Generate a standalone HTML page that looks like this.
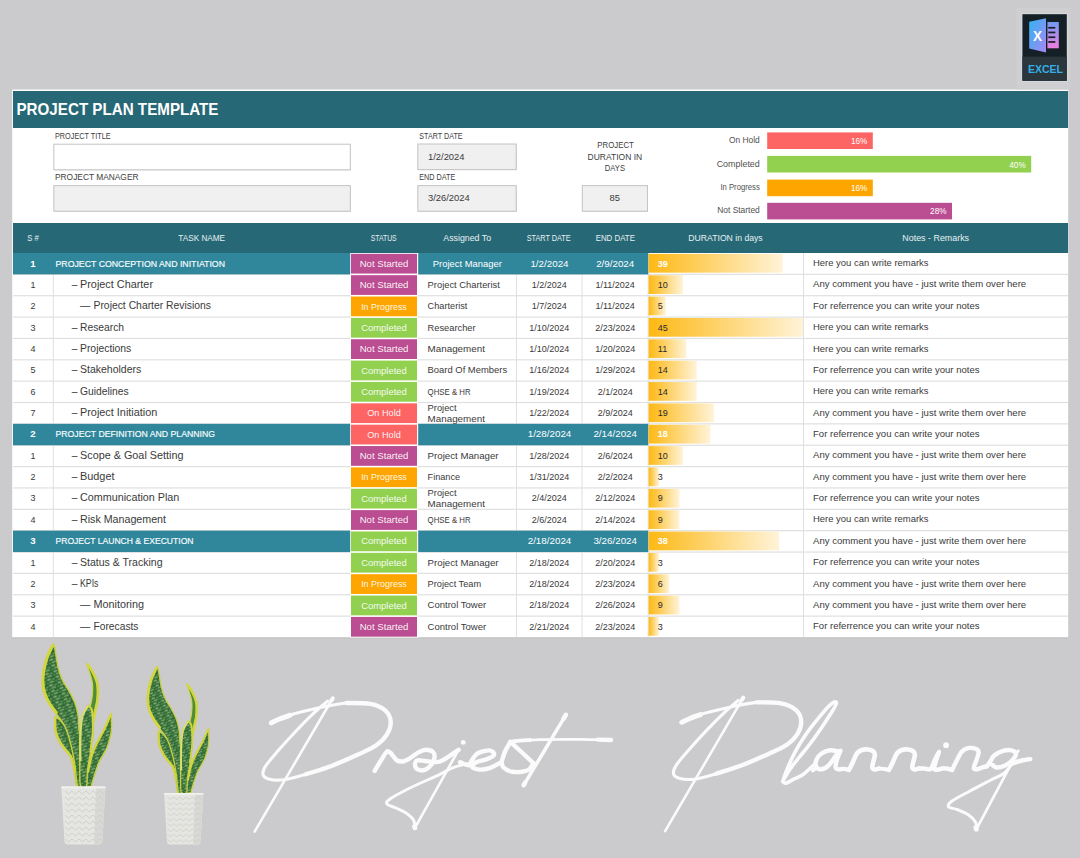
<!DOCTYPE html>
<html><head><meta charset="utf-8"><style>
html,body{margin:0;padding:0;background:#cbcbcd;width:1080px;height:858px;overflow:hidden}
svg{display:block;font-family:"Liberation Sans", sans-serif}
</style></head><body>
<svg width="1080" height="858" viewBox="0 0 1080 858">
<rect x="0" y="0" width="1080" height="858" fill="#cbcbcd"/>
<rect x="12.2" y="89.5" width="1056.0" height="547.9" fill="#ffffff"/>
<rect x="12.2" y="637.4" width="1056.0" height="1.6" fill="#c6c6c8"/>
<rect x="13" y="91" width="1055" height="37" fill="#266876"/>
<text x="16.5" y="114.8" font-size="16.5" fill="#ffffff" text-anchor="start" font-weight="bold" textLength="202" lengthAdjust="spacingAndGlyphs">PROJECT PLAN TEMPLATE</text>
<text x="55" y="138.7" font-size="9.2" fill="#404040" text-anchor="start" textLength="55.6" lengthAdjust="spacingAndGlyphs">PROJECT TITLE</text>
<text x="55" y="180.3" font-size="9.2" fill="#404040" text-anchor="start" textLength="83.5" lengthAdjust="spacingAndGlyphs">PROJECT MANAGER</text>
<text x="419.3" y="138.8" font-size="9.2" fill="#404040" text-anchor="start" textLength="43.3" lengthAdjust="spacingAndGlyphs">START DATE</text>
<text x="419.3" y="180.3" font-size="9.2" fill="#404040" text-anchor="start" textLength="36" lengthAdjust="spacingAndGlyphs">END DATE</text>
<rect x="54.3" y="144.7" width="296.5" height="25.6" fill="#d6d6d6"/>
<rect x="53.8" y="144.2" width="296.5" height="25.6" fill="#ffffff" stroke="#c4c4c4" stroke-width="1"/>
<rect x="54.3" y="186.1" width="296.5" height="25.6" fill="#d6d6d6"/>
<rect x="53.8" y="185.6" width="296.5" height="25.6" fill="#f0f0f0" stroke="#c4c4c4" stroke-width="1"/>
<rect x="418.3" y="144.5" width="98.4" height="25.6" fill="#d6d6d6"/>
<rect x="417.8" y="144.0" width="98.4" height="25.6" fill="#f0f0f0" stroke="#c4c4c4" stroke-width="1"/>
<rect x="418.3" y="186.1" width="98.4" height="25.6" fill="#d6d6d6"/>
<rect x="417.8" y="185.6" width="98.4" height="25.6" fill="#f0f0f0" stroke="#c4c4c4" stroke-width="1"/>
<rect x="582.8" y="186.1" width="65.2" height="25.6" fill="#d6d6d6"/>
<rect x="582.3" y="185.6" width="65.2" height="25.6" fill="#f0f0f0" stroke="#c4c4c4" stroke-width="1"/>
<text x="428" y="159.9" font-size="9.4" fill="#3a3a3a" text-anchor="start">1/2/2024</text>
<text x="428" y="201.0" font-size="9.4" fill="#3a3a3a" text-anchor="start">3/26/2024</text>
<text x="614.8" y="201.3" font-size="9.4" fill="#3a3a3a" text-anchor="middle">85</text>
<text x="615.6" y="148" font-size="8.4" fill="#404040" text-anchor="middle" textLength="36.5" lengthAdjust="spacingAndGlyphs">PROJECT</text>
<text x="614.9" y="159.6" font-size="8.4" fill="#404040" text-anchor="middle" textLength="54.6" lengthAdjust="spacingAndGlyphs">DURATION IN</text>
<text x="614.9" y="171" font-size="8.4" fill="#404040" text-anchor="middle" textLength="20.2" lengthAdjust="spacingAndGlyphs">DAYS</text>
<text x="759.8" y="143" font-size="8.6" fill="#505050" text-anchor="end" textLength="30.9" lengthAdjust="spacingAndGlyphs">On Hold</text>
<rect x="767.2" y="132.4" width="105.6" height="16.6" fill="#fd6565"/>
<text x="867.3000000000001" y="144.0" font-size="8.2" fill="#ffffff" text-anchor="end">16%</text>
<text x="759.8" y="166.5" font-size="8.6" fill="#505050" text-anchor="end" textLength="43.1" lengthAdjust="spacingAndGlyphs">Completed</text>
<rect x="767.2" y="155.9" width="264.0" height="16.6" fill="#92d050"/>
<text x="1025.7" y="167.5" font-size="8.2" fill="#ffffff" text-anchor="end">40%</text>
<text x="759.8" y="190.2" font-size="8.6" fill="#505050" text-anchor="end" textLength="39.4" lengthAdjust="spacingAndGlyphs">In Progress</text>
<rect x="767.2" y="179.6" width="105.6" height="16.6" fill="#fea500"/>
<text x="867.3000000000001" y="191.2" font-size="8.2" fill="#ffffff" text-anchor="end">16%</text>
<text x="759.8" y="213.3" font-size="8.6" fill="#505050" text-anchor="end" textLength="42.6" lengthAdjust="spacingAndGlyphs">Not Started</text>
<rect x="767.2" y="202.8" width="184.79999999999998" height="16.6" fill="#bb4d92"/>
<text x="946.5" y="214.4" font-size="8.2" fill="#ffffff" text-anchor="end">28%</text>
<rect x="13" y="223" width="1055" height="30" fill="#266876"/>
<text x="33" y="240.8" font-size="8.2" fill="#e8f0f2" text-anchor="middle" textLength="11.6" lengthAdjust="spacingAndGlyphs">S #</text>
<text x="201.7" y="240.8" font-size="8.2" fill="#e8f0f2" text-anchor="middle" textLength="46.7" lengthAdjust="spacingAndGlyphs">TASK NAME</text>
<text x="383.7" y="240.8" font-size="8.2" fill="#e8f0f2" text-anchor="middle" textLength="26" lengthAdjust="spacingAndGlyphs">STATUS</text>
<text x="467.2" y="240.8" font-size="8.6" fill="#e8f0f2" text-anchor="middle" textLength="47.7" lengthAdjust="spacingAndGlyphs">Assigned To</text>
<text x="548.7" y="240.8" font-size="8.2" fill="#e8f0f2" text-anchor="middle" textLength="44" lengthAdjust="spacingAndGlyphs">START DATE</text>
<text x="615.3" y="240.8" font-size="8.2" fill="#e8f0f2" text-anchor="middle" textLength="39.3" lengthAdjust="spacingAndGlyphs">END DATE</text>
<text x="725.5" y="240.8" font-size="8.6" fill="#e8f0f2" text-anchor="middle" textLength="74.3" lengthAdjust="spacingAndGlyphs">DURATION in days</text>
<text x="935.7" y="240.8" font-size="8.6" fill="#e8f0f2" text-anchor="middle" textLength="66.7" lengthAdjust="spacingAndGlyphs">Notes - Remarks</text>
<defs><linearGradient id="db" x1="0" x2="1" y1="0" y2="0"><stop offset="0" stop-color="#fdb914"/><stop offset="1" stop-color="#fff3d8"/></linearGradient></defs>
<rect x="13" y="253.0" width="635.2" height="21.36" fill="#30869b"/>
<rect x="13" y="423.88" width="635.2" height="21.36" fill="#30869b"/>
<rect x="13" y="530.6800000000001" width="635.2" height="21.36" fill="#30869b"/>
<rect x="13" y="273.76" width="1055" height="1.2" fill="#e0e0e0"/>
<rect x="13" y="295.12" width="1055" height="1.2" fill="#e0e0e0"/>
<rect x="13" y="316.47999999999996" width="1055" height="1.2" fill="#e0e0e0"/>
<rect x="13" y="337.84" width="1055" height="1.2" fill="#e0e0e0"/>
<rect x="13" y="359.2" width="1055" height="1.2" fill="#e0e0e0"/>
<rect x="13" y="380.55999999999995" width="1055" height="1.2" fill="#e0e0e0"/>
<rect x="13" y="401.91999999999996" width="1055" height="1.2" fill="#e0e0e0"/>
<rect x="13" y="423.28" width="1055" height="1.2" fill="#e0e0e0"/>
<rect x="13" y="444.64" width="1055" height="1.2" fill="#e0e0e0"/>
<rect x="13" y="466.0" width="1055" height="1.2" fill="#e0e0e0"/>
<rect x="13" y="487.35999999999996" width="1055" height="1.2" fill="#e0e0e0"/>
<rect x="13" y="508.71999999999997" width="1055" height="1.2" fill="#e0e0e0"/>
<rect x="13" y="530.08" width="1055" height="1.2" fill="#e0e0e0"/>
<rect x="13" y="551.4399999999999" width="1055" height="1.2" fill="#e0e0e0"/>
<rect x="13" y="572.8" width="1055" height="1.2" fill="#e0e0e0"/>
<rect x="13" y="594.16" width="1055" height="1.2" fill="#e0e0e0"/>
<rect x="13" y="615.52" width="1055" height="1.2" fill="#e0e0e0"/>
<rect x="52.8" y="253" width="1" height="384.48" fill="#e0e0e0"/>
<rect x="417.1" y="253" width="1" height="384.48" fill="#e0e0e0"/>
<rect x="516.0" y="253" width="1" height="384.48" fill="#e0e0e0"/>
<rect x="581.5" y="253" width="1" height="384.48" fill="#e0e0e0"/>
<rect x="647.7" y="253" width="1" height="384.48" fill="#e0e0e0"/>
<rect x="803.0" y="253" width="1" height="384.48" fill="#e0e0e0"/>
<rect x="13" y="253.0" width="635.2" height="21.36" fill="#30869b"/>
<rect x="13" y="423.88" width="635.2" height="21.36" fill="#30869b"/>
<rect x="13" y="530.6800000000001" width="635.2" height="21.36" fill="#30869b"/>
<rect x="350.2" y="253" width="68" height="384.48" fill="#ffffff"/>
<rect x="351" y="253.8" width="66" height="19.759999999999998" fill="#bb4d92"/>
<text x="384" y="266.8" font-size="9.3" fill="#ffffff" text-anchor="middle" textLength="48.7" lengthAdjust="spacingAndGlyphs" fill-opacity="0.95">Not Started</text>
<rect x="648.6" y="253.9" width="133.9" height="18.759999999999998" fill="url(#db)"/>
<text x="657.8" y="266.5" font-size="9" fill="#ffffff" text-anchor="start" font-weight="bold">39</text>
<text x="813" y="266.1" font-size="9.5" fill="#3a3a3a" text-anchor="start" textLength="115.5" lengthAdjust="spacingAndGlyphs">Here you can write remarks</text>
<text x="33" y="266.5" font-size="9.6" fill="#ffffff" text-anchor="middle" font-weight="bold">1</text>
<text x="55.5" y="266.5" font-size="9.6" fill="#f4fbfc" text-anchor="start" textLength="169.5" lengthAdjust="spacingAndGlyphs" stroke="#f4fbfc" stroke-width="0.2">PROJECT CONCEPTION AND INITIATION</text>
<text x="467.3" y="266.5" font-size="9.4" fill="#ffffff" text-anchor="middle" textLength="69.1" lengthAdjust="spacingAndGlyphs">Project Manager</text>
<text x="549.5" y="266.5" font-size="9.8" fill="#ffffff" text-anchor="middle">1/2/2024</text>
<text x="615.2" y="266.5" font-size="9.8" fill="#ffffff" text-anchor="middle">2/9/2024</text>
<rect x="351" y="275.16" width="66" height="19.759999999999998" fill="#bb4d92"/>
<text x="384" y="288.16" font-size="9.3" fill="#ffffff" text-anchor="middle" textLength="48.7" lengthAdjust="spacingAndGlyphs" fill-opacity="0.95">Not Started</text>
<rect x="648.6" y="275.26" width="34.33333333333333" height="18.759999999999998" fill="url(#db)"/>
<text x="657.8" y="287.86" font-size="9" fill="#2a2a2a" text-anchor="start">10</text>
<text x="813" y="287.46000000000004" font-size="9.5" fill="#3a3a3a" text-anchor="start" textLength="213.2" lengthAdjust="spacingAndGlyphs">Any comment you have - just write them over here</text>
<text x="33" y="287.86" font-size="9" fill="#3a3a3a" text-anchor="middle">1</text>
<text x="71.7" y="287.86" font-size="10.3" fill="#3a3a3a" text-anchor="start">–</text>
<text x="80" y="287.86" font-size="10.3" fill="#3a3a3a" text-anchor="start" textLength="73" lengthAdjust="spacingAndGlyphs">Project Charter</text>
<text x="427.6" y="287.86" font-size="9.3" fill="#3a3a3a" text-anchor="start" textLength="72.2" lengthAdjust="spacingAndGlyphs">Project Charterist</text>
<text x="549.3" y="287.86" font-size="9" fill="#3a3a3a" text-anchor="middle">1/2/2024</text>
<text x="615.2" y="287.86" font-size="9" fill="#3a3a3a" text-anchor="middle">1/11/2024</text>
<rect x="351" y="296.52000000000004" width="66" height="19.759999999999998" fill="#fea500"/>
<text x="384" y="309.52000000000004" font-size="9.3" fill="#ffffff" text-anchor="middle" textLength="45.7" lengthAdjust="spacingAndGlyphs" fill-opacity="0.95">In Progress</text>
<rect x="648.6" y="296.62" width="17.166666666666664" height="18.759999999999998" fill="url(#db)"/>
<text x="657.8" y="309.22" font-size="9" fill="#2a2a2a" text-anchor="start">5</text>
<text x="813" y="308.82000000000005" font-size="9.5" fill="#3a3a3a" text-anchor="start" textLength="166.5" lengthAdjust="spacingAndGlyphs">For referrence you can write your notes</text>
<text x="33" y="309.22" font-size="9" fill="#3a3a3a" text-anchor="middle">2</text>
<text x="80" y="309.22" font-size="10.3" fill="#3a3a3a" text-anchor="start">—</text>
<text x="93.5" y="309.22" font-size="10.3" fill="#3a3a3a" text-anchor="start" textLength="117.5" lengthAdjust="spacingAndGlyphs">Project Charter Revisions</text>
<text x="427.6" y="309.22" font-size="9.3" fill="#3a3a3a" text-anchor="start" textLength="39.8" lengthAdjust="spacingAndGlyphs">Charterist</text>
<text x="549.3" y="309.22" font-size="9" fill="#3a3a3a" text-anchor="middle">1/7/2024</text>
<text x="615.2" y="309.22" font-size="9" fill="#3a3a3a" text-anchor="middle">1/11/2024</text>
<rect x="351" y="317.88" width="66" height="19.759999999999998" fill="#92d050"/>
<text x="384" y="330.88" font-size="9.3" fill="#ffffff" text-anchor="middle" textLength="45.5" lengthAdjust="spacingAndGlyphs" fill-opacity="0.95">Completed</text>
<rect x="648.6" y="317.97999999999996" width="154.5" height="18.759999999999998" fill="url(#db)"/>
<text x="657.8" y="330.58" font-size="9" fill="#2a2a2a" text-anchor="start">45</text>
<text x="813" y="330.18" font-size="9.5" fill="#3a3a3a" text-anchor="start" textLength="115.5" lengthAdjust="spacingAndGlyphs">Here you can write remarks</text>
<text x="33" y="330.58" font-size="9" fill="#3a3a3a" text-anchor="middle">3</text>
<text x="71.7" y="330.58" font-size="10.3" fill="#3a3a3a" text-anchor="start">–</text>
<text x="80" y="330.58" font-size="10.3" fill="#3a3a3a" text-anchor="start" textLength="44" lengthAdjust="spacingAndGlyphs">Research</text>
<text x="427.6" y="330.58" font-size="9.3" fill="#3a3a3a" text-anchor="start" textLength="48" lengthAdjust="spacingAndGlyphs">Researcher</text>
<text x="549.3" y="330.58" font-size="9" fill="#3a3a3a" text-anchor="middle">1/10/2024</text>
<text x="615.2" y="330.58" font-size="9" fill="#3a3a3a" text-anchor="middle">2/23/2024</text>
<rect x="351" y="339.24" width="66" height="19.759999999999998" fill="#bb4d92"/>
<text x="384" y="352.24" font-size="9.3" fill="#ffffff" text-anchor="middle" textLength="48.7" lengthAdjust="spacingAndGlyphs" fill-opacity="0.95">Not Started</text>
<rect x="648.6" y="339.34" width="37.766666666666666" height="18.759999999999998" fill="url(#db)"/>
<text x="657.8" y="351.94" font-size="9" fill="#2a2a2a" text-anchor="start">11</text>
<text x="813" y="351.54" font-size="9.5" fill="#3a3a3a" text-anchor="start" textLength="115.5" lengthAdjust="spacingAndGlyphs">Here you can write remarks</text>
<text x="33" y="351.94" font-size="9" fill="#3a3a3a" text-anchor="middle">4</text>
<text x="71.7" y="351.94" font-size="10.3" fill="#3a3a3a" text-anchor="start">–</text>
<text x="80" y="351.94" font-size="10.3" fill="#3a3a3a" text-anchor="start" textLength="51.3" lengthAdjust="spacingAndGlyphs">Projections</text>
<text x="427.6" y="351.94" font-size="9.3" fill="#3a3a3a" text-anchor="start" textLength="57.3" lengthAdjust="spacingAndGlyphs">Management</text>
<text x="549.3" y="351.94" font-size="9" fill="#3a3a3a" text-anchor="middle">1/10/2024</text>
<text x="615.2" y="351.94" font-size="9" fill="#3a3a3a" text-anchor="middle">1/20/2024</text>
<rect x="351" y="360.6" width="66" height="19.759999999999998" fill="#92d050"/>
<text x="384" y="373.6" font-size="9.3" fill="#ffffff" text-anchor="middle" textLength="45.5" lengthAdjust="spacingAndGlyphs" fill-opacity="0.95">Completed</text>
<rect x="648.6" y="360.7" width="48.06666666666667" height="18.759999999999998" fill="url(#db)"/>
<text x="657.8" y="373.3" font-size="9" fill="#2a2a2a" text-anchor="start">14</text>
<text x="813" y="372.90000000000003" font-size="9.5" fill="#3a3a3a" text-anchor="start" textLength="166.5" lengthAdjust="spacingAndGlyphs">For referrence you can write your notes</text>
<text x="33" y="373.3" font-size="9" fill="#3a3a3a" text-anchor="middle">5</text>
<text x="71.7" y="373.3" font-size="10.3" fill="#3a3a3a" text-anchor="start">–</text>
<text x="80" y="373.3" font-size="10.3" fill="#3a3a3a" text-anchor="start" textLength="61.3" lengthAdjust="spacingAndGlyphs">Stakeholders</text>
<text x="427.6" y="373.3" font-size="9.3" fill="#3a3a3a" text-anchor="start" textLength="79.5" lengthAdjust="spacingAndGlyphs">Board Of Members</text>
<text x="549.3" y="373.3" font-size="9" fill="#3a3a3a" text-anchor="middle">1/16/2024</text>
<text x="615.2" y="373.3" font-size="9" fill="#3a3a3a" text-anchor="middle">1/29/2024</text>
<rect x="351" y="381.96" width="66" height="19.759999999999998" fill="#92d050"/>
<text x="384" y="394.96" font-size="9.3" fill="#ffffff" text-anchor="middle" textLength="45.5" lengthAdjust="spacingAndGlyphs" fill-opacity="0.95">Completed</text>
<rect x="648.6" y="382.05999999999995" width="48.06666666666667" height="18.759999999999998" fill="url(#db)"/>
<text x="657.8" y="394.65999999999997" font-size="9" fill="#2a2a2a" text-anchor="start">14</text>
<text x="813" y="394.26" font-size="9.5" fill="#3a3a3a" text-anchor="start" textLength="115.5" lengthAdjust="spacingAndGlyphs">Here you can write remarks</text>
<text x="33" y="394.65999999999997" font-size="9" fill="#3a3a3a" text-anchor="middle">6</text>
<text x="71.7" y="394.65999999999997" font-size="10.3" fill="#3a3a3a" text-anchor="start">–</text>
<text x="80" y="394.65999999999997" font-size="10.3" fill="#3a3a3a" text-anchor="start" textLength="48.7" lengthAdjust="spacingAndGlyphs">Guidelines</text>
<text x="427.6" y="394.65999999999997" font-size="9.3" fill="#3a3a3a" text-anchor="start" textLength="43" lengthAdjust="spacingAndGlyphs">QHSE &amp; HR</text>
<text x="549.3" y="394.65999999999997" font-size="9" fill="#3a3a3a" text-anchor="middle">1/19/2024</text>
<text x="615.2" y="394.65999999999997" font-size="9" fill="#3a3a3a" text-anchor="middle">2/1/2024</text>
<rect x="351" y="403.32" width="66" height="19.759999999999998" fill="#fd6565"/>
<text x="384" y="416.32" font-size="9.3" fill="#ffffff" text-anchor="middle" textLength="33.5" lengthAdjust="spacingAndGlyphs" fill-opacity="0.95">On Hold</text>
<rect x="648.6" y="403.41999999999996" width="65.23333333333333" height="18.759999999999998" fill="url(#db)"/>
<text x="657.8" y="416.02" font-size="9" fill="#2a2a2a" text-anchor="start">19</text>
<text x="813" y="415.62" font-size="9.5" fill="#3a3a3a" text-anchor="start" textLength="213.2" lengthAdjust="spacingAndGlyphs">Any comment you have - just write them over here</text>
<text x="33" y="416.02" font-size="9" fill="#3a3a3a" text-anchor="middle">7</text>
<text x="71.7" y="416.02" font-size="10.3" fill="#3a3a3a" text-anchor="start">–</text>
<text x="80" y="416.02" font-size="10.3" fill="#3a3a3a" text-anchor="start" textLength="77.3" lengthAdjust="spacingAndGlyphs">Project Initiation</text>
<text x="427.6" y="410.52" font-size="9.3" fill="#3a3a3a" text-anchor="start" textLength="29" lengthAdjust="spacingAndGlyphs">Project</text>
<text x="427.6" y="422.02" font-size="9.3" fill="#3a3a3a" text-anchor="start" textLength="57.3" lengthAdjust="spacingAndGlyphs">Management</text>
<text x="549.3" y="416.02" font-size="9" fill="#3a3a3a" text-anchor="middle">1/22/2024</text>
<text x="615.2" y="416.02" font-size="9" fill="#3a3a3a" text-anchor="middle">2/9/2024</text>
<rect x="351" y="424.68" width="66" height="19.759999999999998" fill="#fd6565"/>
<text x="384" y="437.68" font-size="9.3" fill="#ffffff" text-anchor="middle" textLength="33.5" lengthAdjust="spacingAndGlyphs" fill-opacity="0.95">On Hold</text>
<rect x="648.6" y="424.78" width="61.800000000000004" height="18.759999999999998" fill="url(#db)"/>
<text x="657.8" y="437.38" font-size="9" fill="#ffffff" text-anchor="start" font-weight="bold">18</text>
<text x="813" y="436.98" font-size="9.5" fill="#3a3a3a" text-anchor="start" textLength="166.5" lengthAdjust="spacingAndGlyphs">For referrence you can write your notes</text>
<text x="33" y="437.38" font-size="9.6" fill="#ffffff" text-anchor="middle" font-weight="bold">2</text>
<text x="55.5" y="437.38" font-size="9.6" fill="#f4fbfc" text-anchor="start" textLength="159.5" lengthAdjust="spacingAndGlyphs" stroke="#f4fbfc" stroke-width="0.2">PROJECT DEFINITION AND PLANNING</text>
<text x="549.5" y="437.38" font-size="9.8" fill="#ffffff" text-anchor="middle">1/28/2024</text>
<text x="615.2" y="437.38" font-size="9.8" fill="#ffffff" text-anchor="middle">2/14/2024</text>
<rect x="351" y="446.04" width="66" height="19.759999999999998" fill="#bb4d92"/>
<text x="384" y="459.04" font-size="9.3" fill="#ffffff" text-anchor="middle" textLength="48.7" lengthAdjust="spacingAndGlyphs" fill-opacity="0.95">Not Started</text>
<rect x="648.6" y="446.14" width="34.33333333333333" height="18.759999999999998" fill="url(#db)"/>
<text x="657.8" y="458.74" font-size="9" fill="#2a2a2a" text-anchor="start">10</text>
<text x="813" y="458.34000000000003" font-size="9.5" fill="#3a3a3a" text-anchor="start" textLength="213.2" lengthAdjust="spacingAndGlyphs">Any comment you have - just write them over here</text>
<text x="33" y="458.74" font-size="9" fill="#3a3a3a" text-anchor="middle">1</text>
<text x="71.7" y="458.74" font-size="10.3" fill="#3a3a3a" text-anchor="start">–</text>
<text x="80" y="458.74" font-size="10.3" fill="#3a3a3a" text-anchor="start" textLength="103.5" lengthAdjust="spacingAndGlyphs">Scope &amp; Goal Setting</text>
<text x="427.6" y="458.74" font-size="9.3" fill="#3a3a3a" text-anchor="start" textLength="71" lengthAdjust="spacingAndGlyphs">Project Manager</text>
<text x="549.3" y="458.74" font-size="9" fill="#3a3a3a" text-anchor="middle">1/28/2024</text>
<text x="615.2" y="458.74" font-size="9" fill="#3a3a3a" text-anchor="middle">2/6/2024</text>
<rect x="351" y="467.40000000000003" width="66" height="19.759999999999998" fill="#fea500"/>
<text x="384" y="480.40000000000003" font-size="9.3" fill="#ffffff" text-anchor="middle" textLength="45.7" lengthAdjust="spacingAndGlyphs" fill-opacity="0.95">In Progress</text>
<rect x="648.6" y="467.5" width="10.3" height="18.759999999999998" fill="url(#db)"/>
<text x="657.8" y="480.1" font-size="9" fill="#2a2a2a" text-anchor="start">3</text>
<text x="813" y="479.70000000000005" font-size="9.5" fill="#3a3a3a" text-anchor="start" textLength="213.2" lengthAdjust="spacingAndGlyphs">Any comment you have - just write them over here</text>
<text x="33" y="480.1" font-size="9" fill="#3a3a3a" text-anchor="middle">2</text>
<text x="71.7" y="480.1" font-size="10.3" fill="#3a3a3a" text-anchor="start">–</text>
<text x="80" y="480.1" font-size="10.3" fill="#3a3a3a" text-anchor="start" textLength="34.5" lengthAdjust="spacingAndGlyphs">Budget</text>
<text x="427.6" y="480.1" font-size="9.3" fill="#3a3a3a" text-anchor="start" textLength="32.5" lengthAdjust="spacingAndGlyphs">Finance</text>
<text x="549.3" y="480.1" font-size="9" fill="#3a3a3a" text-anchor="middle">1/31/2024</text>
<text x="615.2" y="480.1" font-size="9" fill="#3a3a3a" text-anchor="middle">2/2/2024</text>
<rect x="351" y="488.76" width="66" height="19.759999999999998" fill="#92d050"/>
<text x="384" y="501.76" font-size="9.3" fill="#ffffff" text-anchor="middle" textLength="45.5" lengthAdjust="spacingAndGlyphs" fill-opacity="0.95">Completed</text>
<rect x="648.6" y="488.85999999999996" width="30.900000000000002" height="18.759999999999998" fill="url(#db)"/>
<text x="657.8" y="501.46" font-size="9" fill="#2a2a2a" text-anchor="start">9</text>
<text x="813" y="501.06" font-size="9.5" fill="#3a3a3a" text-anchor="start" textLength="166.5" lengthAdjust="spacingAndGlyphs">For referrence you can write your notes</text>
<text x="33" y="501.46" font-size="9" fill="#3a3a3a" text-anchor="middle">3</text>
<text x="71.7" y="501.46" font-size="10.3" fill="#3a3a3a" text-anchor="start">–</text>
<text x="80" y="501.46" font-size="10.3" fill="#3a3a3a" text-anchor="start" textLength="99.3" lengthAdjust="spacingAndGlyphs">Communication Plan</text>
<text x="427.6" y="495.96" font-size="9.3" fill="#3a3a3a" text-anchor="start" textLength="29" lengthAdjust="spacingAndGlyphs">Project</text>
<text x="427.6" y="507.46" font-size="9.3" fill="#3a3a3a" text-anchor="start" textLength="57.3" lengthAdjust="spacingAndGlyphs">Management</text>
<text x="549.3" y="501.46" font-size="9" fill="#3a3a3a" text-anchor="middle">2/4/2024</text>
<text x="615.2" y="501.46" font-size="9" fill="#3a3a3a" text-anchor="middle">2/12/2024</text>
<rect x="351" y="510.12" width="66" height="19.759999999999998" fill="#bb4d92"/>
<text x="384" y="523.1199999999999" font-size="9.3" fill="#ffffff" text-anchor="middle" textLength="48.7" lengthAdjust="spacingAndGlyphs" fill-opacity="0.95">Not Started</text>
<rect x="648.6" y="510.21999999999997" width="30.900000000000002" height="18.759999999999998" fill="url(#db)"/>
<text x="657.8" y="522.8199999999999" font-size="9" fill="#2a2a2a" text-anchor="start">9</text>
<text x="813" y="522.42" font-size="9.5" fill="#3a3a3a" text-anchor="start" textLength="115.5" lengthAdjust="spacingAndGlyphs">Here you can write remarks</text>
<text x="33" y="522.8199999999999" font-size="9" fill="#3a3a3a" text-anchor="middle">4</text>
<text x="71.7" y="522.8199999999999" font-size="10.3" fill="#3a3a3a" text-anchor="start">–</text>
<text x="80" y="522.8199999999999" font-size="10.3" fill="#3a3a3a" text-anchor="start" textLength="86" lengthAdjust="spacingAndGlyphs">Risk Management</text>
<text x="427.6" y="522.8199999999999" font-size="9.3" fill="#3a3a3a" text-anchor="start" textLength="43" lengthAdjust="spacingAndGlyphs">QHSE &amp; HR</text>
<text x="549.3" y="522.8199999999999" font-size="9" fill="#3a3a3a" text-anchor="middle">2/6/2024</text>
<text x="615.2" y="522.8199999999999" font-size="9" fill="#3a3a3a" text-anchor="middle">2/14/2024</text>
<rect x="351" y="531.48" width="66" height="19.759999999999998" fill="#92d050"/>
<text x="384" y="544.48" font-size="9.3" fill="#ffffff" text-anchor="middle" textLength="45.5" lengthAdjust="spacingAndGlyphs" fill-opacity="0.95">Completed</text>
<rect x="648.6" y="531.58" width="130.46666666666667" height="18.759999999999998" fill="url(#db)"/>
<text x="657.8" y="544.1800000000001" font-size="9" fill="#ffffff" text-anchor="start" font-weight="bold">38</text>
<text x="813" y="543.7800000000001" font-size="9.5" fill="#3a3a3a" text-anchor="start" textLength="213.2" lengthAdjust="spacingAndGlyphs">Any comment you have - just write them over here</text>
<text x="33" y="544.1800000000001" font-size="9.6" fill="#ffffff" text-anchor="middle" font-weight="bold">3</text>
<text x="55.5" y="544.1800000000001" font-size="9.6" fill="#f4fbfc" text-anchor="start" textLength="138" lengthAdjust="spacingAndGlyphs" stroke="#f4fbfc" stroke-width="0.2">PROJECT LAUNCH &amp; EXECUTION</text>
<text x="549.5" y="544.1800000000001" font-size="9.8" fill="#ffffff" text-anchor="middle">2/18/2024</text>
<text x="615.2" y="544.1800000000001" font-size="9.8" fill="#ffffff" text-anchor="middle">3/26/2024</text>
<rect x="351" y="552.8399999999999" width="66" height="19.759999999999998" fill="#92d050"/>
<text x="384" y="565.8399999999999" font-size="9.3" fill="#ffffff" text-anchor="middle" textLength="45.5" lengthAdjust="spacingAndGlyphs" fill-opacity="0.95">Completed</text>
<rect x="648.6" y="552.9399999999999" width="10.3" height="18.759999999999998" fill="url(#db)"/>
<text x="657.8" y="565.54" font-size="9" fill="#2a2a2a" text-anchor="start">3</text>
<text x="813" y="565.14" font-size="9.5" fill="#3a3a3a" text-anchor="start" textLength="166.5" lengthAdjust="spacingAndGlyphs">For referrence you can write your notes</text>
<text x="33" y="565.54" font-size="9" fill="#3a3a3a" text-anchor="middle">1</text>
<text x="71.7" y="565.54" font-size="10.3" fill="#3a3a3a" text-anchor="start">–</text>
<text x="80" y="565.54" font-size="10.3" fill="#3a3a3a" text-anchor="start" textLength="82.5" lengthAdjust="spacingAndGlyphs">Status &amp; Tracking</text>
<text x="427.6" y="565.54" font-size="9.3" fill="#3a3a3a" text-anchor="start" textLength="71" lengthAdjust="spacingAndGlyphs">Project Manager</text>
<text x="549.3" y="565.54" font-size="9" fill="#3a3a3a" text-anchor="middle">2/18/2024</text>
<text x="615.2" y="565.54" font-size="9" fill="#3a3a3a" text-anchor="middle">2/20/2024</text>
<rect x="351" y="574.1999999999999" width="66" height="19.759999999999998" fill="#fea500"/>
<text x="384" y="587.1999999999999" font-size="9.3" fill="#ffffff" text-anchor="middle" textLength="45.7" lengthAdjust="spacingAndGlyphs" fill-opacity="0.95">In Progress</text>
<rect x="648.6" y="574.3" width="20.6" height="18.759999999999998" fill="url(#db)"/>
<text x="657.8" y="586.9" font-size="9" fill="#2a2a2a" text-anchor="start">6</text>
<text x="813" y="586.5" font-size="9.5" fill="#3a3a3a" text-anchor="start" textLength="213.2" lengthAdjust="spacingAndGlyphs">Any comment you have - just write them over here</text>
<text x="33" y="586.9" font-size="9" fill="#3a3a3a" text-anchor="middle">2</text>
<text x="71.7" y="586.9" font-size="10.3" fill="#3a3a3a" text-anchor="start">–</text>
<text x="80" y="586.9" font-size="10.3" fill="#3a3a3a" text-anchor="start" textLength="18.5" lengthAdjust="spacingAndGlyphs">KPIs</text>
<text x="427.6" y="586.9" font-size="9.3" fill="#3a3a3a" text-anchor="start" textLength="53.5" lengthAdjust="spacingAndGlyphs">Project Team</text>
<text x="549.3" y="586.9" font-size="9" fill="#3a3a3a" text-anchor="middle">2/18/2024</text>
<text x="615.2" y="586.9" font-size="9" fill="#3a3a3a" text-anchor="middle">2/23/2024</text>
<rect x="351" y="595.56" width="66" height="19.759999999999998" fill="#92d050"/>
<text x="384" y="608.56" font-size="9.3" fill="#ffffff" text-anchor="middle" textLength="45.5" lengthAdjust="spacingAndGlyphs" fill-opacity="0.95">Completed</text>
<rect x="648.6" y="595.66" width="30.900000000000002" height="18.759999999999998" fill="url(#db)"/>
<text x="657.8" y="608.26" font-size="9" fill="#2a2a2a" text-anchor="start">9</text>
<text x="813" y="607.86" font-size="9.5" fill="#3a3a3a" text-anchor="start" textLength="213.2" lengthAdjust="spacingAndGlyphs">Any comment you have - just write them over here</text>
<text x="33" y="608.26" font-size="9" fill="#3a3a3a" text-anchor="middle">3</text>
<text x="80" y="608.26" font-size="10.3" fill="#3a3a3a" text-anchor="start">—</text>
<text x="93.5" y="608.26" font-size="10.3" fill="#3a3a3a" text-anchor="start" textLength="50.5" lengthAdjust="spacingAndGlyphs">Monitoring</text>
<text x="427.6" y="608.26" font-size="9.3" fill="#3a3a3a" text-anchor="start" textLength="58.5" lengthAdjust="spacingAndGlyphs">Control Tower</text>
<text x="549.3" y="608.26" font-size="9" fill="#3a3a3a" text-anchor="middle">2/18/2024</text>
<text x="615.2" y="608.26" font-size="9" fill="#3a3a3a" text-anchor="middle">2/26/2024</text>
<rect x="351" y="616.92" width="66" height="19.759999999999998" fill="#bb4d92"/>
<text x="384" y="629.92" font-size="9.3" fill="#ffffff" text-anchor="middle" textLength="48.7" lengthAdjust="spacingAndGlyphs" fill-opacity="0.95">Not Started</text>
<rect x="648.6" y="617.02" width="10.3" height="18.759999999999998" fill="url(#db)"/>
<text x="657.8" y="629.62" font-size="9" fill="#2a2a2a" text-anchor="start">3</text>
<text x="813" y="629.22" font-size="9.5" fill="#3a3a3a" text-anchor="start" textLength="166.5" lengthAdjust="spacingAndGlyphs">For referrence you can write your notes</text>
<text x="33" y="629.62" font-size="9" fill="#3a3a3a" text-anchor="middle">4</text>
<text x="80" y="629.62" font-size="10.3" fill="#3a3a3a" text-anchor="start">—</text>
<text x="93.5" y="629.62" font-size="10.3" fill="#3a3a3a" text-anchor="start" textLength="45" lengthAdjust="spacingAndGlyphs">Forecasts</text>
<text x="427.6" y="629.62" font-size="9.3" fill="#3a3a3a" text-anchor="start" textLength="58.5" lengthAdjust="spacingAndGlyphs">Control Tower</text>
<text x="549.3" y="629.62" font-size="9" fill="#3a3a3a" text-anchor="middle">2/21/2024</text>
<text x="615.2" y="629.62" font-size="9" fill="#3a3a3a" text-anchor="middle">2/23/2024</text>
<g id="P1">
<path d="M270.4,723.3C273.2,722.1 278.7,718.5 287.0,715.9C295.3,713.3 310.5,709.8 320.4,707.6C330.3,705.5 338.0,703.6 346.3,703.0C354.6,702.4 363.9,702.7 370.4,703.9C376.9,705.1 381.8,707.5 385.2,710.4C388.6,713.3 390.4,717.5 390.7,721.5C391.0,725.5 389.5,730.4 387.0,734.4C384.5,738.4 380.8,742.2 375.9,745.6C371.0,749.0 364.8,751.4 357.4,754.8C350.0,758.2 340.1,762.6 331.5,765.9C322.9,769.1 313.6,772.0 305.6,774.3C297.6,776.6 289.5,779.0 283.3,779.8C277.1,780.6 271.9,779.8 268.5,778.9C265.1,778.0 263.5,776.5 263.0,774.3C262.5,772.1 263.2,769.8 265.7,765.9C268.2,762.0 272.7,757.0 277.8,751.1C282.9,745.2 290.1,737.2 296.3,730.7C302.5,724.2 309.6,717.1 314.8,712.2C320.1,707.3 325.6,703.0 327.8,701.1" fill="none" stroke="#fbfbfc" stroke-width="3.1" stroke-linecap="round" stroke-linejoin="round"/>
<path d="M346.3,703.0C350.3,703.1 363.9,702.7 370.4,703.9C376.9,705.1 381.8,707.5 385.2,710.4C388.6,713.3 390.4,717.5 390.7,721.5C391.0,725.5 389.5,730.4 387.0,734.4C384.5,738.4 380.8,742.2 375.9,745.6C371.0,749.0 364.8,751.4 357.4,754.8C350.0,758.2 340.1,762.6 331.5,765.9C322.9,769.1 309.9,772.9 305.6,774.3" fill="none" stroke="#fbfbfc" stroke-width="4.3" stroke-linecap="round" stroke-linejoin="round"/>
<path d="M332.6,698.5L254.6,831.7" fill="none" stroke="#fbfbfc" stroke-width="2.6" stroke-linecap="round" stroke-linejoin="round"/>
<path d="M271.5,722.8C272.9,722.1 276.9,720.1 280.0,718.8C283.1,717.5 288.3,715.8 290.0,715.2" fill="none" stroke="#fbfbfc" stroke-width="5" stroke-linecap="round" stroke-linejoin="round"/>
<path d="M331.5,700.3L332.8,698.3" fill="none" stroke="#fbfbfc" stroke-width="4" stroke-linecap="round" stroke-linejoin="round"/>
</g>
<use href="#P1" transform="translate(410.5,-0.6)"/>
<path d="M374.7,770.8C375.6,769.3 378.0,765.1 380.0,762.0C382.0,758.9 384.8,753.6 386.5,752.0C388.2,750.4 388.8,751.8 390.0,752.5C391.2,753.2 392.3,755.2 393.5,756.5C394.7,757.8 395.5,759.7 397.0,760.5C398.5,761.3 400.6,761.7 402.5,761.5C404.4,761.3 405.8,760.7 408.5,759.1C411.2,757.5 416.1,753.7 419.0,752.1C421.9,750.5 423.6,749.8 425.9,749.8C428.2,749.8 431.6,750.7 433.0,752.0C434.4,753.3 434.8,755.4 434.5,757.5C434.2,759.6 433.0,762.5 431.5,764.5C430.0,766.5 427.7,768.7 425.5,769.6C423.3,770.5 420.2,770.5 418.5,769.8C416.8,769.1 415.2,767.0 415.0,765.5C414.8,764.0 415.4,761.2 417.0,760.5C418.6,759.8 422.3,760.8 424.8,761.0C427.3,761.2 429.5,761.7 432.0,761.8C434.5,761.9 437.3,762.3 440.0,761.5C442.7,760.7 444.9,759.0 448.0,757.0C451.1,755.0 456.8,751.0 458.6,749.8" fill="none" stroke="#fbfbfc" stroke-width="4.4" stroke-linecap="round" stroke-linejoin="round"/>
<path d="M458.6,749.8L414.9,827.9" fill="none" stroke="#fbfbfc" stroke-width="2.6" stroke-linecap="round" stroke-linejoin="round"/>
<path d="M414.9,827.9C414.7,826.6 415.0,822.5 413.5,820.0C412.0,817.5 408.9,815.0 406.0,813.0C403.1,811.0 399.2,809.5 396.0,808.0C392.8,806.5 388.0,805.5 387.0,804.0C386.0,802.5 386.2,801.7 390.0,799.0C393.8,796.3 401.7,792.1 410.0,788.0C418.3,783.9 432.6,777.8 439.9,774.3C447.2,770.8 448.7,769.2 453.9,767.3C459.1,765.4 468.1,763.7 471.0,763.0" fill="none" stroke="#fbfbfc" stroke-width="3.0" stroke-linecap="round" stroke-linejoin="round"/>
<circle cx="463.2" cy="742.4" r="2.4" fill="#fbfbfc"/>
<path d="M460.0,762.2C461.5,762.7 466.9,765.6 468.9,765.2C470.9,764.8 470.4,762.0 471.9,760.0C473.4,758.0 474.9,754.9 477.8,753.3C480.8,751.7 486.9,750.1 489.6,750.4C492.3,750.6 494.6,753.3 494.1,754.8C493.6,756.3 489.7,758.1 486.7,759.3C483.7,760.5 478.8,761.0 476.3,762.2C473.8,763.4 471.4,765.5 471.9,766.7C472.4,767.9 476.4,769.4 479.3,769.6C482.2,769.8 485.9,769.3 489.6,768.1C493.3,766.9 499.5,763.2 501.5,762.2" fill="none" stroke="#fbfbfc" stroke-width="4.4" stroke-linecap="round" stroke-linejoin="round"/>
<path d="M501.5,762.2C502.1,760.4 503.5,754.9 505.0,751.5C506.5,748.1 509.5,743.4 510.4,741.8" fill="none" stroke="#fbfbfc" stroke-width="4.4" stroke-linecap="round" stroke-linejoin="round"/>
<path d="M510.4,741.8C512.3,743.6 518.1,748.9 522.0,752.5C525.9,756.1 531.6,761.4 533.5,763.2" fill="none" stroke="#fbfbfc" stroke-width="4.3" stroke-linecap="round" stroke-linejoin="round"/>
<path d="M533.5,763.2C532.8,764.2 531.2,768.0 529.0,769.5C526.8,771.0 523.1,771.7 520.0,772.0C516.9,772.3 513.2,772.0 510.5,771.3C507.8,770.5 505.0,769.0 503.5,767.5C502.0,766.0 501.8,763.1 501.5,762.2" fill="none" stroke="#fbfbfc" stroke-width="4.4" stroke-linecap="round" stroke-linejoin="round"/>
<path d="M513.3,741.0C517.8,740.8 528.9,739.9 540.0,739.6C551.1,739.3 568.1,739.3 580.0,739.4C591.9,739.5 605.9,739.9 611.1,740.0" fill="none" stroke="#fbfbfc" stroke-width="2.8" stroke-linecap="round" stroke-linejoin="round"/>
<path d="M511.0,742.0C512.5,741.8 516.8,740.9 520.0,740.6C523.2,740.3 528.3,740.1 530.0,740.0" fill="none" stroke="#fbfbfc" stroke-width="3.8" stroke-linecap="round" stroke-linejoin="round"/>
<path d="M598.0,739.6L611.1,740.0" fill="none" stroke="#fbfbfc" stroke-width="4.4" stroke-linecap="round" stroke-linejoin="round"/>
<path d="M565.9,714.8C562.4,720.7 551.8,738.3 544.8,750.0C537.8,761.7 527.2,779.3 523.7,785.2" fill="none" stroke="#fbfbfc" stroke-width="3.5" stroke-linecap="round" stroke-linejoin="round"/>
<path d="M565.9,714.8L563.5,718.8" fill="none" stroke="#fbfbfc" stroke-width="4.6" stroke-linecap="round" stroke-linejoin="round"/>
<path d="M525.0,783.0L523.7,785.2" fill="none" stroke="#fbfbfc" stroke-width="4.6" stroke-linecap="round" stroke-linejoin="round"/>
<path d="M782.8,781.4C783.3,779.8 784.7,775.3 786.0,772.0C787.3,768.7 788.8,765.0 790.5,761.4C792.2,757.8 794.0,754.1 796.0,750.4C798.0,746.7 800.3,743.0 802.7,739.3C805.1,735.6 807.6,731.9 810.4,728.2C813.2,724.5 816.4,720.6 819.3,717.1C822.2,713.6 825.6,709.5 828.0,707.0C830.4,704.5 832.1,703.0 833.5,702.3C834.9,701.5 836.4,701.5 836.5,702.5C836.6,703.5 835.2,706.3 834.0,708.5C832.8,710.7 831.2,712.8 829.5,715.5C827.8,718.2 825.9,721.2 823.7,724.5C821.5,727.8 819.1,731.3 816.5,735.0C813.9,738.7 810.9,742.8 808.0,746.5C805.1,750.2 801.9,753.8 799.0,757.5C796.1,761.2 793.0,764.9 790.5,768.5C788.0,772.1 785.1,777.2 784.0,779.0" fill="none" stroke="#fbfbfc" stroke-width="3.6" stroke-linecap="round" stroke-linejoin="round"/>
<path d="M782.8,781.4C783.3,781.7 784.5,783.4 786.0,783.2C787.5,783.0 788.8,781.7 791.6,780.3C794.4,778.9 799.4,776.9 802.7,774.7C806.0,772.5 809.5,768.8 811.5,767.0C813.5,765.2 814.4,764.5 815.0,764.0" fill="none" stroke="#fbfbfc" stroke-width="3.6" stroke-linecap="round" stroke-linejoin="round"/>
<path d="M812.8,770.4L815.0,769.0" fill="none" stroke="#fbfbfc" stroke-width="3.8" stroke-linecap="round" stroke-linejoin="round"/>
<path d="M838.5,751.5C837.1,751.3 832.8,750.0 830.0,750.3C827.2,750.6 823.8,751.9 821.5,753.5C819.2,755.1 817.1,757.8 816.3,760.0C815.5,762.2 815.6,765.5 816.5,767.0C817.4,768.5 819.4,769.6 821.5,769.3C823.6,769.0 826.2,768.0 829.0,765.0C831.8,762.0 836.9,753.8 838.5,751.5" fill="none" stroke="#fbfbfc" stroke-width="4.4" stroke-linecap="round" stroke-linejoin="round"/>
<path d="M840.5,750.8C839.9,752.3 837.6,757.3 836.8,760.0C836.0,762.7 835.3,765.4 835.6,767.0C835.9,768.6 837.2,769.1 838.5,769.4C839.8,769.7 841.6,768.9 843.3,768.9C845.0,768.9 848.0,769.5 848.9,769.6" fill="none" stroke="#fbfbfc" stroke-width="4.4" stroke-linecap="round" stroke-linejoin="round"/>
<path d="M848.9,770.0C849.6,768.7 851.6,764.8 852.9,762.0C854.2,759.2 855.4,755.5 856.9,753.5C858.4,751.5 860.1,750.7 861.9,750.0C863.7,749.3 866.1,749.3 867.9,749.5C869.7,749.7 871.7,750.2 872.9,751.0C874.1,751.8 874.8,752.7 874.9,754.4C875.0,756.1 874.0,758.8 873.5,761.0C873.0,763.2 872.0,766.0 872.2,767.4C872.4,768.8 873.8,769.2 874.9,769.4C876.0,769.6 878.2,768.6 878.9,768.5" fill="none" stroke="#fbfbfc" stroke-width="4.6" stroke-linecap="round" stroke-linejoin="round"/>
<path d="M878.9,768.5C879.8,768.6 882.3,768.8 884.0,769.0C885.7,769.2 888.1,769.8 888.9,770.0" fill="none" stroke="#fbfbfc" stroke-width="3.8" stroke-linecap="round" stroke-linejoin="round"/>
<path d="M888.9,770.0C889.6,768.7 891.6,764.8 892.9,762.0C894.2,759.2 895.4,755.5 896.9,753.5C898.4,751.5 900.1,750.7 901.9,750.0C903.7,749.3 906.1,749.3 907.9,749.5C909.7,749.7 911.7,750.2 912.9,751.0C914.1,751.8 914.8,752.7 914.9,754.4C915.0,756.1 914.0,758.8 913.5,761.0C913.0,763.2 912.0,766.0 912.2,767.4C912.4,768.8 913.8,769.2 914.9,769.4C916.0,769.6 918.2,768.6 918.9,768.5" fill="none" stroke="#fbfbfc" stroke-width="4.6" stroke-linecap="round" stroke-linejoin="round"/>
<path d="M918.9,768.5C919.8,768.5 922.1,768.4 924.0,768.5C925.9,768.6 928.7,770.3 930.5,768.9C932.3,767.5 933.4,762.9 934.8,760.0C936.2,757.1 938.7,751.8 938.9,751.8C939.1,751.8 937.0,757.2 936.2,760.0C935.4,762.8 933.9,767.1 934.2,768.7C934.5,770.3 936.4,769.7 938.0,769.6C939.6,769.5 941.6,768.2 944.0,768.3C946.4,768.3 950.8,769.6 952.1,769.9" fill="none" stroke="#fbfbfc" stroke-width="4.4" stroke-linecap="round" stroke-linejoin="round"/>
<circle cx="946.1" cy="745.2" r="2.9" fill="#fbfbfc"/>
<path d="M952.1,769.9C952.8,768.4 954.9,764.0 956.5,761.0C958.1,758.0 959.8,753.9 961.7,751.8C963.6,749.7 965.8,748.8 967.8,748.2C969.8,747.6 971.8,747.9 973.5,748.2C975.2,748.5 976.9,749.2 977.8,750.0C978.6,750.8 978.8,751.3 978.6,753.0C978.4,754.7 977.3,757.5 976.5,760.0C975.7,762.5 973.6,766.7 973.8,768.2C974.0,769.7 976.1,769.3 977.5,769.2C978.9,769.1 980.6,768.0 982.2,767.5C983.8,767.0 986.2,766.5 987.0,766.3" fill="none" stroke="#fbfbfc" stroke-width="4.4" stroke-linecap="round" stroke-linejoin="round"/>
<path d="M987.0,766.3C987.6,765.4 989.3,762.8 990.5,761.0C991.7,759.2 992.0,757.2 994.2,755.5C996.4,753.8 1000.9,751.4 1003.9,750.6C1006.9,749.8 1010.0,749.9 1012.0,750.5C1014.0,751.1 1016.1,752.7 1015.9,754.5C1015.7,756.3 1013.0,759.6 1011.0,761.5C1009.0,763.4 1006.4,765.0 1004.0,766.0C1001.6,767.0 998.5,767.7 996.6,767.5C994.7,767.3 993.2,765.4 992.5,765.0" fill="none" stroke="#fbfbfc" stroke-width="4.4" stroke-linecap="round" stroke-linejoin="round"/>
<path d="M1018.3,750.6L976.3,829.3" fill="none" stroke="#fbfbfc" stroke-width="2.7" stroke-linecap="round" stroke-linejoin="round"/>
<path d="M976.3,829.3C976.2,828.1 976.9,824.5 975.5,822.0C974.1,819.5 971.1,816.6 968.0,814.5C964.9,812.4 960.2,810.8 957.0,809.5C953.8,808.2 949.3,808.2 948.5,806.8C947.7,805.4 948.4,803.6 952.0,801.0C955.6,798.4 963.7,794.4 970.0,791.0C976.3,787.6 984.3,783.5 990.0,780.5C995.7,777.5 1000.5,776.0 1004.4,773.0C1008.3,770.0 1010.6,764.8 1013.5,762.7C1016.4,760.6 1019.2,761.1 1022.0,760.5C1024.8,759.9 1028.9,759.3 1030.3,759.1" fill="none" stroke="#fbfbfc" stroke-width="3.0" stroke-linecap="round" stroke-linejoin="round"/>
<path d="M1012.0,763.5C1013.7,763.0 1019.0,761.2 1022.0,760.5C1025.0,759.8 1028.9,759.3 1030.3,759.1" fill="none" stroke="#fbfbfc" stroke-width="4.4" stroke-linecap="round" stroke-linejoin="round"/>
<path d="M975.8,827.5L976.3,829.3" fill="none" stroke="#fbfbfc" stroke-width="4.8" stroke-linecap="round" stroke-linejoin="round"/>
<path d="M414.5,826.5L414.9,827.9" fill="none" stroke="#fbfbfc" stroke-width="4.8" stroke-linecap="round" stroke-linejoin="round"/>
<g id="plant1"><defs><pattern id="leafpat" width="9" height="6" patternUnits="userSpaceOnUse" patternTransform="rotate(-20)"><rect width="9" height="6" fill="#2c6832"/><ellipse cx="2.5" cy="1.5" rx="2.2" ry="1.0" fill="#86ad78"/><ellipse cx="7" cy="2.2" rx="1.6" ry="0.8" fill="#6d9c62"/><ellipse cx="4.5" cy="4.4" rx="2.6" ry="0.9" fill="#7aa66c"/><ellipse cx="0.3" cy="4.8" rx="1.2" ry="0.7" fill="#5e9456"/><ellipse cx="9.3" cy="4.8" rx="1.2" ry="0.7" fill="#5e9456"/></pattern></defs>
<path d="M86.4,663.1C87.3,664.5 90.0,668.0 91.7,671.5C93.5,675.0 96.0,679.6 96.9,684.1C97.8,688.6 97.6,694.1 97.2,698.8C96.8,703.4 95.7,706.0 94.5,712.0C93.3,718.0 91.2,727.0 90.0,735.0C88.8,743.0 87.7,751.5 87.0,760.0C86.3,768.5 86.9,781.7 86.0,786.0C85.1,790.3 82.1,790.3 81.5,786.0C80.9,781.7 81.9,768.5 82.5,760.0C83.1,751.5 83.9,743.0 85.0,735.0C86.1,727.0 87.8,718.2 89.0,712.0C90.2,705.8 91.4,702.7 92.0,698.0C92.6,693.3 92.9,688.3 92.5,684.0C92.1,679.7 90.0,674.0 89.5,672.0Z" fill="#4f8c3c" stroke="#cfd544" stroke-width="1.2" stroke-linejoin="round"/>
<path d="M87.8,664.8C88.7,666.1 91.4,669.3 93.0,672.5C94.6,675.7 96.6,679.7 97.4,684.1C98.2,688.5 98.0,694.1 97.6,698.8C97.2,703.4 96.1,706.3 95.0,712.0C93.9,717.7 91.7,729.5 91.0,733.0" fill="none" stroke="#d3d63c" stroke-width="2.6" stroke-linecap="round"/>
<path d="M111.3,713.6C111.3,716.6 112.0,725.8 111.3,731.4C110.6,737.0 109.2,741.9 107.1,747.2C105.0,752.5 101.2,757.2 98.7,763.0C96.2,768.8 93.7,778.0 92.4,781.8C91.1,785.6 92.2,785.3 91.0,786.0C89.8,786.7 86.2,787.8 85.5,786.0C84.8,784.2 85.8,780.6 87.0,775.0C88.2,769.4 89.8,759.7 92.4,752.4C95.1,745.1 101.2,734.9 102.9,731.4Z" fill="url(#leafpat)" stroke="#c8d040" stroke-width="1.4" stroke-linejoin="round"/>
<path d="M111.0,714.5C109.7,717.2 106.4,724.8 103.4,731.0C100.4,737.2 95.6,745.2 93.0,752.0C90.4,758.8 88.8,768.7 88.0,772.0" fill="none" stroke="#d3d63c" stroke-width="2.2" stroke-linecap="round"/>
<path d="M54.7,716.5C54.8,719.0 54.2,726.8 55.2,731.4C56.2,736.0 58.4,740.3 60.5,744.0C62.6,747.7 66.2,751.0 68.0,753.5C69.8,756.0 70.5,755.7 71.6,759.0C72.7,762.3 73.8,768.9 74.6,773.4C75.4,777.9 75.5,783.9 76.7,786.0C77.9,788.1 81.5,789.5 82.0,786.0C82.5,782.5 81.0,771.8 80.0,765.0C79.0,758.2 78.0,750.8 76.0,745.0C74.0,739.2 70.7,734.2 68.0,730.0C65.3,725.8 61.3,721.7 60.0,720.0Z" fill="url(#leafpat)" stroke="#c8d040" stroke-width="1.4" stroke-linejoin="round"/>
<path d="M55.2,717.5C55.3,719.8 54.8,727.1 55.8,731.4C56.8,735.7 58.9,739.9 61.0,743.5C63.1,747.1 66.5,750.4 68.3,753.0C70.1,755.6 70.9,755.8 72.0,759.0C73.1,762.2 74.5,769.8 75.0,772.0" fill="none" stroke="#d3d63c" stroke-width="2.4" stroke-linecap="round"/>
<path d="M53.4,644.2C53.0,644.9 51.9,646.1 50.7,648.4C49.6,650.7 47.7,654.3 46.5,657.8C45.3,661.3 44.1,665.4 43.4,669.4C42.7,673.4 42.2,678.1 42.3,682.0C42.4,685.9 42.8,689.0 43.9,692.5C45.0,696.0 46.6,699.5 48.6,703.0C50.6,706.5 53.7,710.4 56.0,713.5C58.3,716.6 60.5,719.0 62.3,721.8C64.0,724.5 65.0,726.1 66.5,730.0C68.0,733.9 69.6,739.2 71.0,745.0C72.4,750.8 73.9,758.2 75.0,765.0C76.1,771.8 76.0,782.5 77.5,786.0C79.0,789.5 83.2,789.8 84.0,786.0C84.8,782.2 82.9,770.3 82.5,763.0C82.1,755.7 82.1,747.5 81.5,742.0C80.9,736.5 79.7,734.4 79.1,730.0C78.5,725.6 78.7,720.0 78.0,715.5C77.3,711.0 76.5,707.2 74.9,703.0C73.3,698.8 70.7,694.2 68.6,690.4C66.5,686.5 64.0,683.8 62.3,679.9C60.5,676.0 59.1,671.3 58.1,667.3C57.1,663.3 56.6,659.2 56.0,655.7C55.4,652.2 54.7,647.9 54.4,646.3Z" fill="url(#leafpat)" stroke="#c8d040" stroke-width="1.4" stroke-linejoin="round"/>
<path d="M53.4,645.0C53.0,645.7 52.0,646.8 50.9,649.0C49.8,651.2 48.1,654.6 47.0,658.0C45.9,661.4 44.7,665.4 44.0,669.4C43.3,673.4 42.8,678.1 42.9,682.0C43.0,685.9 43.5,689.1 44.5,692.5C45.5,695.9 47.0,699.1 49.0,702.5C51.0,705.9 55.1,711.1 56.3,712.8" fill="none" stroke="#d3d63c" stroke-width="3.0" stroke-linecap="round"/>
<path d="M88.2,705.2C88.9,706.1 91.6,706.1 92.4,710.5C93.2,714.9 93.5,724.4 93.2,731.4C92.9,738.4 91.5,746.0 90.5,752.4C89.5,758.8 88.2,764.4 87.5,770.0C86.8,775.6 87.7,783.3 86.5,786.0C85.3,788.7 81.6,789.5 80.5,786.0C79.4,782.5 79.9,773.2 79.8,765.0C79.7,756.8 79.4,744.9 79.8,736.7C80.2,728.5 81.6,719.2 81.9,715.7Z" fill="url(#leafpat)" stroke="#c8d040" stroke-width="1.4" stroke-linejoin="round"/>
<path d="M88.3,706.0C87.3,707.7 83.9,710.9 82.6,716.0C81.3,721.1 80.8,729.4 80.5,736.7C80.2,744.0 80.5,756.1 80.5,760.0" fill="none" stroke="#d9df70" stroke-width="2.0" stroke-linecap="round"/>
<path d="M88.6,706.0C89.1,706.8 91.1,706.8 91.8,711.0C92.5,715.2 92.9,724.6 92.6,731.4C92.3,738.2 90.4,748.6 90.0,752.0" fill="none" stroke="#d3d63c" stroke-width="1.6" stroke-linecap="round"/>
<path d="M61.3,786.4 L105.4,786.4 L102.4,841 Q102,844.6 98,844.6 L68.5,844.6 Q64.6,844.6 64.4,841 Z" fill="#e5e5e1"/>
<path d="M96,786.4 L105.4,786.4 L102.4,841 Q102,844.6 98,844.6 L94,844.6 Z" fill="#d8d8d4"/>
<rect x="61.3" y="786.4" width="44.1" height="2" fill="#f0f0ed"/>
<path d="M65,791 l3.5,3 l3.5,-3 l3.5,3 l3.5,-3 l3.5,3 l3.5,-3 l3.5,3 l3.5,-3 l3.5,3 l3.5,-3 l3.5,3" fill="none" stroke="#cdcdc8" stroke-width="0.9"/>
<path d="M65,797 l3.5,3 l3.5,-3 l3.5,3 l3.5,-3 l3.5,3 l3.5,-3 l3.5,3 l3.5,-3 l3.5,3 l3.5,-3 l3.5,3" fill="none" stroke="#cdcdc8" stroke-width="0.9"/>
<path d="M65,803 l3.5,3 l3.5,-3 l3.5,3 l3.5,-3 l3.5,3 l3.5,-3 l3.5,3 l3.5,-3 l3.5,3 l3.5,-3 l3.5,3" fill="none" stroke="#cdcdc8" stroke-width="0.9"/>
<path d="M65,809 l3.5,3 l3.5,-3 l3.5,3 l3.5,-3 l3.5,3 l3.5,-3 l3.5,3 l3.5,-3 l3.5,3 l3.5,-3 l3.5,3" fill="none" stroke="#cdcdc8" stroke-width="0.9"/>
<path d="M65,815 l3.5,3 l3.5,-3 l3.5,3 l3.5,-3 l3.5,3 l3.5,-3 l3.5,3 l3.5,-3 l3.5,3 l3.5,-3 l3.5,3" fill="none" stroke="#cdcdc8" stroke-width="0.9"/>
<path d="M65,821 l3.5,3 l3.5,-3 l3.5,3 l3.5,-3 l3.5,3 l3.5,-3 l3.5,3 l3.5,-3 l3.5,3 l3.5,-3 l3.5,3" fill="none" stroke="#cdcdc8" stroke-width="0.9"/>
<path d="M65,827 l3.5,3 l3.5,-3 l3.5,3 l3.5,-3 l3.5,3 l3.5,-3 l3.5,3 l3.5,-3 l3.5,3 l3.5,-3 l3.5,3" fill="none" stroke="#cdcdc8" stroke-width="0.9"/>
<path d="M65,833 l3.5,3 l3.5,-3 l3.5,3 l3.5,-3 l3.5,3 l3.5,-3 l3.5,3 l3.5,-3 l3.5,3 l3.5,-3 l3.5,3" fill="none" stroke="#cdcdc8" stroke-width="0.9"/>
<path d="M65,839 l3.5,3 l3.5,-3 l3.5,3 l3.5,-3 l3.5,3 l3.5,-3 l3.5,3 l3.5,-3 l3.5,3 l3.5,-3 l3.5,3" fill="none" stroke="#cdcdc8" stroke-width="0.9"/></g>
<use href="#plant1" transform="translate(109.82,95.43) scale(0.887)"/><defs>
<linearGradient id="xl1" x1="0" y1="0" x2="1" y2="1"><stop offset="0" stop-color="#2fb4f4"/><stop offset="1" stop-color="#a986f2"/></linearGradient>
<linearGradient id="xl2" x1="0" y1="0" x2="0" y2="1"><stop offset="0" stop-color="#6f9af2"/><stop offset="1" stop-color="#f07ee0"/></linearGradient>
</defs>
<rect x="1016.5" y="8" width="54" height="81.5" fill="#cfcfd1"/>
<rect x="1021.5" y="13.3" width="46.2" height="68.4" fill="#dcdcde"/>
<rect x="1022.4" y="14.2" width="44.4" height="66.6" fill="#151f26"/>
<rect x="1022.4" y="56.7" width="44.4" height="24.1" fill="#2b363c"/>
<path d="M1029.2,21.8 L1046,18.2 L1046,52.6 L1029.2,48.6 Z" fill="url(#xl1)"/>
<rect x="1047.4" y="22" width="11.4" height="26.3" fill="url(#xl2)"/>
<rect x="1048.3" y="26.9" width="7" height="1.7" fill="#151f26"/>
<rect x="1048.3" y="31.6" width="7" height="1.7" fill="#151f26"/>
<rect x="1048.3" y="36.4" width="7" height="1.7" fill="#151f26"/>
<rect x="1048.3" y="41.1" width="7" height="1.7" fill="#151f26"/>
<text x="1037.4" y="40.9" font-size="14.5" font-weight="bold" fill="#ffffff" text-anchor="middle" textLength="9" lengthAdjust="spacingAndGlyphs">X</text>
<text x="1045.4" y="73" font-size="11.8" font-weight="bold" fill="#37aee6" text-anchor="middle" textLength="35" lengthAdjust="spacingAndGlyphs">EXCEL</text>

</svg>
</body></html>
